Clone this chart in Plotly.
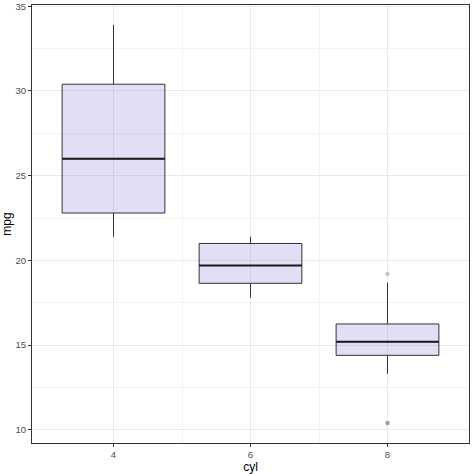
import numpy as np
import plotly.graph_objects as go

# mtcars mpg grouped by cylinder count
cyl4_mpg = [22.8, 24.4, 22.8, 32.4, 30.4, 33.9, 21.5, 27.3, 26.0, 30.4, 21.4]
cyl6_mpg = [21.0, 21.0, 21.4, 18.1, 19.2, 17.8, 19.7]
cyl8_mpg = [18.7, 14.3, 16.4, 17.3, 15.2, 10.4, 10.4, 14.7, 15.5, 15.2, 13.3, 19.2, 15.8, 15.0]
groups = [4, 6, 8]
x_ticks = [4, 6, 8]
y_ticks = [10, 15, 20, 25, 30, 35]

series = [cyl4_mpg, cyl6_mpg, cyl8_mpg]

# ggplot-style (type 7) statistics
q1s, meds, q3s, lows, highs = [], [], [], [], []
out_x, out_y = [], []
for g, vals in zip(groups, series):
    v = np.array(vals)
    q1, med, q3 = np.percentile(v, [25, 50, 75])
    iqr = q3 - q1
    lo_f, hi_f = q1 - 1.5 * iqr, q3 + 1.5 * iqr
    inside = v[(v >= lo_f) & (v <= hi_f)]
    q1s.append(q1); meds.append(med); q3s.append(q3)
    lows.append(inside.min()); highs.append(inside.max())
    for o in v[(v < lo_f) | (v > hi_f)]:
        out_x.append(g); out_y.append(float(o))

BOXW = 1.5
fig = go.Figure()
fig.add_trace(go.Box(
    x=groups, q1=q1s, median=meds, q3=q3s, lowerfence=lows, upperfence=highs,
    width=BOXW, whiskerwidth=0, boxpoints=False,
    fillcolor="rgba(106,90,205,0.2)",
    line=dict(color="#333333", width=1),
    showlegend=False, hoverinfo="skip",
))
# thicker median lines (ggplot fatten)
for g, med in zip(groups, meds):
    fig.add_trace(go.Scatter(
        x=[g - BOXW / 2, g + BOXW / 2], y=[med, med], mode="lines",
        line=dict(color="#1a1a1a", width=2.2), showlegend=False, hoverinfo="skip",
    ))
fig.add_trace(go.Scatter(
    x=out_x, y=out_y, mode="markers",
    marker=dict(color="rgba(51,51,51,0.25)", size=4.5, line=dict(width=0)),
    showlegend=False, hoverinfo="skip",
))

axis_common = dict(
    showline=True, mirror=True, linecolor="#333333", linewidth=1.1,
    gridcolor="#EBEBEB", gridwidth=1, zeroline=False, automargin=False,
    ticks="outside", ticklen=3, tickwidth=1, tickcolor="#333333",
    tickfont=dict(size=9.5, color="#4D4D4D", family="Liberation Sans, Arial"),
)
fig.update_xaxes(
    **axis_common, range=[2.81, 9.19], tickvals=x_ticks,
    ticktext=[str(t) for t in x_ticks],
    minor=dict(tickvals=[5, 7], showgrid=True, gridcolor="#F3F3F3", gridwidth=0.6, ticks=""),
    title=dict(text="cyl", font=dict(size=12, color="black", family="Liberation Sans, Arial"), standoff=2),
)
fig.update_yaxes(
    **axis_common, range=[9.225, 35.075], tickvals=y_ticks,
    ticktext=[str(t) for t in y_ticks],
    minor=dict(tickvals=[12.5, 17.5, 22.5, 27.5, 32.5], showgrid=True, gridcolor="#F3F3F3", gridwidth=0.6, ticks=""),
    title=dict(text="mpg", font=dict(size=12, color="black", family="Liberation Sans, Arial"), standoff=2),
)
fig.update_layout(
    width=474, height=474,
    margin=dict(l=32, r=5, t=5, b=31),
    plot_bgcolor="white", paper_bgcolor="white",
    font=dict(family="Liberation Sans, Arial"),
)
fig.write_html("out.html")
